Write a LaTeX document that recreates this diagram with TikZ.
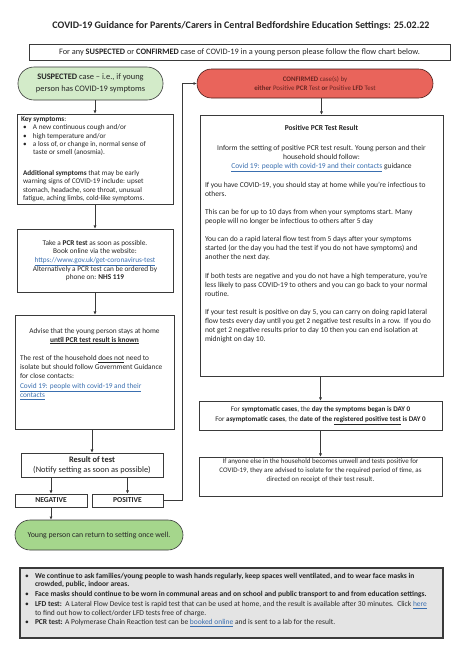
\documentclass[tikz,border=0pt]{standalone}
\usepackage{fontspec}
\setmainfont{Carlito}
\usetikzlibrary{arrows.meta}
\definecolor{txt}{HTML}{262626}
\definecolor{boxc}{HTML}{3a3a3a}
\definecolor{greenA}{HTML}{d3ebc9}
\definecolor{greenB}{HTML}{a5d68c}
\definecolor{redA}{HTML}{e9645b}
\definecolor{redtxt}{HTML}{6a2622}
\definecolor{linkc}{HTML}{3a6fb0}
\definecolor{greyfill}{HTML}{e4e4e4}
\newcommand{\myfs}[2]{\fontsize{#1}{#2}\selectfont}
\newcommand{\lnk}[1]{\textcolor{linkc}{\underline{#1}}}
\newcommand{\tbx}[3]{\parbox[c][#2][t]{#1}{#3}}
\newcommand{\bul}{\makebox[10pt][l]{\textbullet}}
\begin{document}
\begin{tikzpicture}[x=1pt,y=-1pt,
  every node/.style={text=txt},
  box/.style={draw=boxc, line width=0.7pt, inner sep=0pt, fill=white},
  pill/.style={draw=boxc, line width=0.6pt, inner sep=0pt},
  arr/.style={draw=boxc, line width=0.8pt, -{Latex[length=3.2pt,width=3.2pt]}}]
\useasboundingbox[fill=white] (0,0) rectangle (474,670);

\node[font=\bfseries\myfs{10}{12}] (title) at (241,26) {COVID-19 Guidance for Parents/Carers in Central Bedfordshire Education Settings: 25.02.22};

\node[box, minimum width=421pt, minimum height=16pt, font=\myfs{8.3}{9}] (intro) at (239.5,52) {For any \textbf{SUSPECTED} or \textbf{CONFIRMED} case of COVID-19 in a young person please follow the flow chart below.};

% left column
\node[pill, fill=greenA, minimum width=145pt, minimum height=33pt, rounded corners=16pt, align=center, font=\myfs{8.4}{12}] (sus) at (90.5,83.5) {\textbf{SUSPECTED} case -- i.e., if young\\person has COVID-19 symptoms};

\node[box, minimum width=156pt, minimum height=90pt, font=\myfs{7.2}{8.3}] (key) at (95,159) {\tbx{148pt}{84pt}{\raggedright
\textbf{Key symptoms}:\\
\hspace*{2pt}\bul A new continuous cough and/or\\
\hspace*{2pt}\bul high temperature and/or\\
\hspace*{2pt}\bul a loss of, or change in, normal sense of\\
\hspace*{12pt}taste or smell (anosmia).\\[12.5pt]
\hspace*{2pt}\textbf{Additional symptoms} that may be early\\
\hspace*{2pt}warning signs of COVID-19 include: upset\\
\hspace*{2pt}stomach, headache, sore throat, unusual\\
\hspace*{2pt}fatigue, aching limbs, cold-like symptoms.}};

\node[box, minimum width=156pt, minimum height=63pt, align=center, font=\myfs{7.3}{8.7}] (pcr) at (95,260.5) {Take a \textbf{PCR test} as soon as possible.\\
Book online via the website:\\
\lnk{https://www.gov.uk/get-coronavirus-test}\\
Alternatively a PCR test can be ordered by\\
phone on: \textbf{NHS 119}};

\node[box, minimum width=159pt, minimum height=114pt, font=\myfs{7.35}{9}] (adv) at (94.5,372) {\tbx{149pt}{106pt}{%
\vspace*{9pt}{\centering Advise that the young person stays at home\\
\textbf{\underline{until PCR test result is known}}\par}
\vspace{9.5pt}\raggedright
The rest of the household \underline{does not} need to\\
isolate but should follow Government Guidance\\
for close contacts:\\[0.8pt]
\lnk{Covid 19: people with covid-19 and their}\\
\lnk{contacts}}};

\node[box, minimum width=142pt, minimum height=24pt, align=center, font=\myfs{8.4}{10}] (res) at (92,465) {\textbf{Result of test}\\(Notify setting as soon as possible)};

\node[box, minimum width=72pt, minimum height=13pt, font=\bfseries\myfs{7.6}{8}] (neg) at (51,500.5) {NEGATIVE};
\node[box, minimum width=71pt, minimum height=13pt, font=\bfseries\myfs{7.6}{8}] (pos) at (127.5,500.5) {POSITIVE};

\node[pill, fill=greenB, minimum width=168pt, minimum height=30pt, rounded corners=15pt, font=\myfs{7.8}{8}] (young) at (99,535) {Young person can return to setting once well.};

% right column
\node[pill, draw=redtxt!70!black, fill=redA, minimum width=236pt, minimum height=29pt, rounded corners=14.5pt, align=center, font=\myfs{6.9}{9}, text=redtxt] (conf) at (315,83.5) {\textbf{CONFIRMED} case(s) by\\\textbf{either} Positive \textbf{PCR} Test \textbf{or} Positive \textbf{LFD} Test};

\node[box, minimum width=243pt, minimum height=261pt, font=\myfs{7.5}{9}] (res2) at (321.5,245.5) {\tbx{233pt}{253pt}{%
\vspace*{6pt}{\centering \textbf{Positive PCR Test Result}\\[11pt]
Inform the setting of positive PCR test result. Young person and their\\
household should follow:\\
\lnk{Covid 19: people with covid-19 and their contacts} guidance\par}
\vspace{10pt}\raggedright
If you have COVID-19, you should stay at home while you’re infectious to\\
others.\\[9.3pt]
This can be for up to 10 days from when your symptoms start. Many\\
people will no longer be infectious to others after 5 day\\[9.3pt]
You can do a rapid lateral flow test from 5 days after your symptoms\\
started (or the day you had the test if you do not have symptoms) and\\
another the next day.\\[9.3pt]
If both tests are negative and you do not have a high temperature, you’re\\
less likely to pass COVID-19 to others and you can go back to your normal\\
routine.\\[9.3pt]
If your test result is positive on day 5, you can carry on doing rapid lateral\\
flow tests every day until you get 2 negative test results in a row.\ \ If you do\\
not get 2 negative results prior to day 10 then you can end isolation at\\
midnight on day 10.}};

\node[box, minimum width=243pt, minimum height=29pt, align=center, font=\myfs{7.1}{10}] (day0) at (320.5,415.5) {For \textbf{symptomatic cases}, the \textbf{day the symptoms began is DAY 0}\\
For \textbf{asymptomatic cases}, the \textbf{date of the \underline{registered positive test} is DAY 0}};

\node[box, minimum width=243pt, minimum height=39pt, font=\myfs{6.95}{9}] (house) at (320.5,476.5) {\tbx{235pt}{35pt}{\centering
If anyone else in the household becomes unwell and tests positive for\\
COVID-19, they are advised to isolate for the required period of time, as\\
directed on receipt of their test result.}};

% bottom notes
\node[draw=boxc, line width=1.1pt, fill=greyfill, inner sep=0pt, minimum width=423pt, minimum height=70pt, font=\myfs{7.5}{8.5}] (notes) at (231.5,603) {\tbx{413pt}{60pt}{\raggedright
\bul\textbf{We continue to ask families/young people to wash hands regularly, keep spaces well ventilated, and to wear face masks in}\\
\hspace*{10pt}\textbf{crowded, public, indoor areas.}\\[1.5pt]
\bul\textbf{Face masks should continue to be worn in communal areas and on school and public transport to and from education settings.}\\[1.5pt]
\bul\textbf{LFD test:}\ \ A Lateral Flow Device test is rapid test that can be used at home, and the result is available after 30 minutes.\ \ Click \lnk{here}\\
\hspace*{10pt}to find out how to collect/order LFD tests free of charge.\\[1pt]
\bul\textbf{PCR test:} A Polymerase Chain Reaction test can be \lnk{booked online} and is sent to a lab for the result.}};

% connectors
\draw[arr] (sus.south -| key.north) -- (key.north);
\draw[arr] (key.south) -- (pcr.north);
\draw[arr] (pcr.south) -- (pcr.south |- adv.north);
\draw[arr] (adv.south -| res.north) -- (res.north);
\draw[arr] (res.south -| neg.north) -- (neg.north);
\draw[arr] (res.south -| pos.north) -- (pos.north);
\draw[arr] (neg.south) -- (neg.south |- young.north);
\coordinate (loop) at (182,300);
\draw[arr] (pos.east) -- (pos.east -| loop) -- (loop |- conf.west) -- (conf.west);
\draw[arr] (conf.south -| res2.north) -- (res2.north);
\draw[arr] (res2.south -| day0.north) -- (day0.north);
\draw[arr] (day0.south) -- (house.north);
\end{tikzpicture}
\end{document}
